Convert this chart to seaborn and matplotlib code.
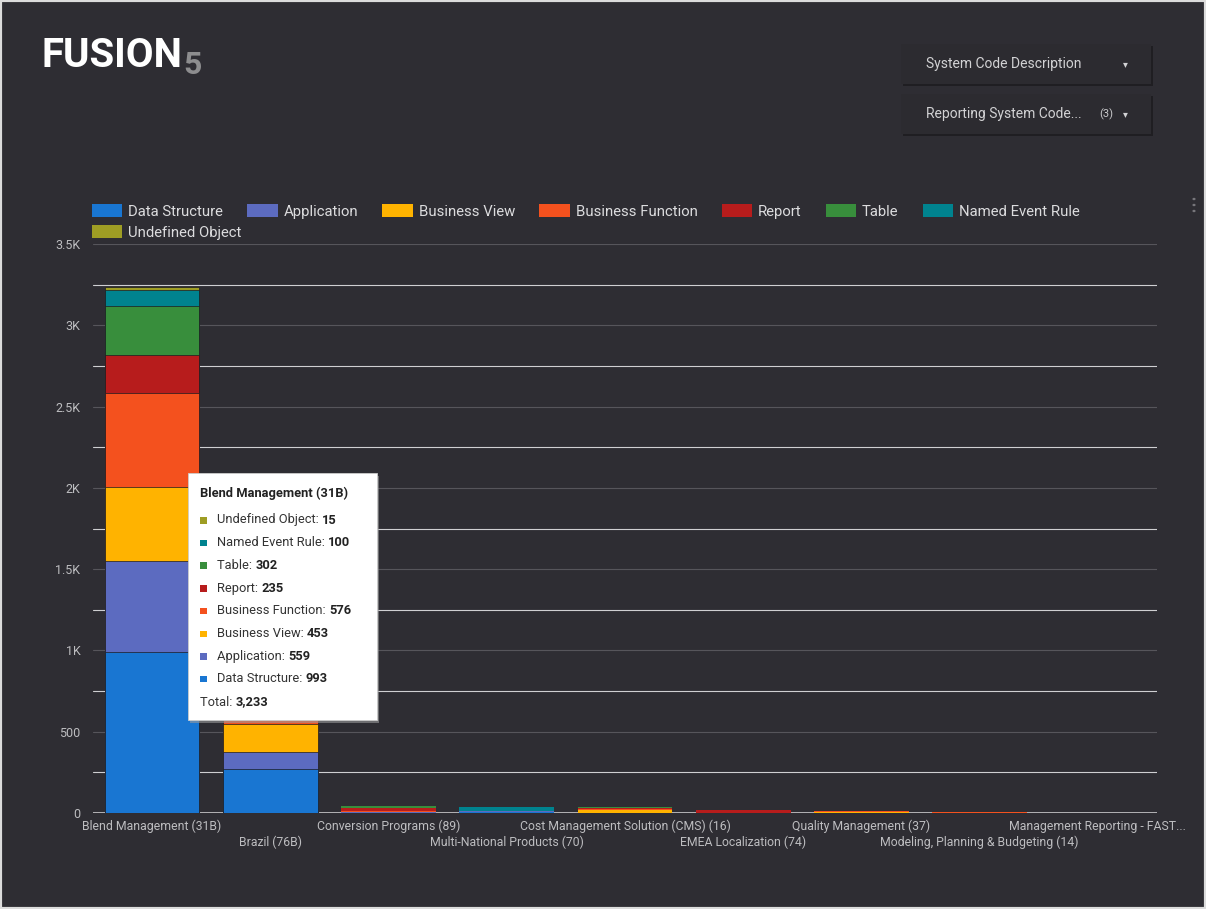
import numpy as np
import pandas as pd
import matplotlib
matplotlib.use("Agg")
import matplotlib.pyplot as plt
import seaborn as sns
from matplotlib.patches import Rectangle, Patch
from matplotlib.ticker import MultipleLocator, FuncFormatter

# ================================
# DATA
# ================================
categories = [
    "Blend Management (31B)",
    "Brazil (76B)",
    "Conversion Programs (89)",
    "Multi-National Products (70)",
    "Cost Management Solution (CMS) (16)",
    "EMEA Localization (74)",
    "Quality Management (37)",
    "Modeling, Planning & Budgeting (14)",
    "Management Reporting - FAST...",
]

data_structure = [993, 272, 3, 8, 1, 1, 0, 0, 1]
application = [559, 105, 3, 2, 0, 0, 0, 0, 0]
business_view = [453, 172, 2, 0, 19, 0, 8, 3, 0]
business_function = [576, 120, 5, 0, 7, 2, 2, 1, 0]
report = [235, 45, 20, 0, 6, 14, 0, 1, 0]
table = [302, 60, 9, 0, 4, 2, 0, 1, 0]
named_event_rule = [100, 18, 1, 27, 0, 0, 0, 0, 0]
undefined_object = [15, 3, 0, 0, 0, 0, 0, 0, 0]

series_names = ["Data Structure", "Application", "Business View", "Business Function",
                "Report", "Table", "Named Event Rule", "Undefined Object"]
series_values = [data_structure, application, business_view, business_function,
                 report, table, named_event_rule, undefined_object]
series_colors = ["#1976D2", "#5C6BC0", "#FFB300", "#F4511E",
                 "#B71C1C", "#388E3C", "#00838F", "#9E9D24"]

# ================================
# STYLE
# ================================
bg = "#2e2d33"
sns.set_theme(style="dark")
plt.rcParams["font.family"] = ["Roboto", "DejaVu Sans"]

W, H = 1206, 909


def px(x, y):
    return x / W, 1 - y / H


fig = plt.figure(figsize=(W / 100, H / 100), dpi=100, facecolor=bg)
ax = fig.add_axes([93 / W, 1 - 813 / H, (1157 - 93) / W, (813 - 244) / H])
ax.set_facecolor(bg)

# ================================
# STACKED BARS (cumulative layers)
# ================================
cum = np.cumsum(np.array(series_values), axis=0)
for i in reversed(range(len(series_names))):
    sns.barplot(x=categories, y=cum[i], color=series_colors[i], saturation=1,
                width=0.8, errorbar=None, edgecolor="#1c1b20", linewidth=0.5,
                ax=ax, zorder=3)

# thin bars: no outline, otherwise the edges swallow the colour
for p in ax.patches:
    if p.get_height() < 100:
        p.set_linewidth(0)

ax.set_ylim(0, 3500)
ax.set_xlim(-0.5, len(categories) - 0.5)
ax.set_xlabel("")
ax.set_ylabel("")
for s in ax.spines.values():
    s.set_visible(False)

ax.yaxis.set_major_locator(MultipleLocator(500))
ax.yaxis.set_minor_locator(MultipleLocator(250))
ax.yaxis.set_major_formatter(FuncFormatter(
    lambda v, p: "0" if v == 0 else (f"{v/1000:g}K" if v >= 1000 else f"{v:g}")))
ax.grid(which="major", axis="y", color="#56555b", linewidth=0.8, zorder=1)
ax.grid(which="minor", axis="y", color="#cfcfd2", linewidth=0.8, zorder=1)
ax.grid(which="major", axis="x", visible=False)
ax.axhline(0, color="#d6d6d8", linewidth=1.1, zorder=2)
ax.tick_params(axis="y", which="both", length=0, labelsize=9, colors="#bdbdc0", pad=9)
ax.tick_params(axis="x", length=0, labelsize=8.8, colors="#bdbdc0")

for i, tick in enumerate(ax.xaxis.get_major_ticks()):
    tick.set_pad(5 if i % 2 == 0 else 16.5)

# ================================
# LEGEND (one row of seven, the eighth below)
# ================================
leg_kw = dict(loc="upper left", frameon=False, fontsize=10.7, handlelength=2.05,
              handleheight=1.0, handletextpad=0.4, columnspacing=1.62, borderaxespad=0)
handles = [Patch(facecolor=c, edgecolor="none") for c in series_colors]
leg1 = fig.legend(handles[:7], series_names[:7], bbox_to_anchor=px(86, 198), ncol=7, **leg_kw)
leg2 = fig.legend(handles[7:], series_names[7:], bbox_to_anchor=px(86, 219), ncol=1, **leg_kw)
for lg in (leg1, leg2):
    for t in lg.get_texts():
        t.set_color("#dcdcde")

# ================================
# LOGO & CONTROLS
# ================================
renderer = fig.canvas.get_renderer()
logo = fig.text(*px(41, 67), "FUSION", fontsize=29, fontweight="bold", color="white",
                ha="left", va="baseline")
lb = logo.get_window_extent(renderer)
fig.text(lb.x1 / W + 1 / W, 1 - 74 / H, "5", fontsize=23, fontweight="bold",
         color="#8d8d8f", ha="left", va="baseline")

for (y0, txt, extra) in [(44, "System Code Description", ""),
                         (94, "Reporting System Code...", "(3)")]:
    fig.patches.append(Rectangle(px(903, y0 + 42), 250 / W, 40 / H, transform=fig.transFigure,
                                 facecolor="#1f1e22", edgecolor="none", zorder=1))
    fig.patches.append(Rectangle(px(901, y0 + 40), 250 / W, 40 / H, transform=fig.transFigure,
                                 facecolor="#2c2b30", edgecolor="none", zorder=2))
    fig.text(*px(926, y0 + 20), txt, fontsize=10, color="#d2d2d4", va="center", zorder=3)
    if extra:
        fig.text(*px(1099, y0 + 20), extra, fontsize=8, color="#c8c8ca", va="center", zorder=3)
    fig.text(*px(1125, y0 + 20), "▾", fontsize=7, color="#d2d2d4", va="center",
             ha="center", family="DejaVu Sans", zorder=3)

for yy in (199, 205, 211):
    fig.patches.append(plt.Circle(px(1194, yy), 1.6 / W, transform=fig.transFigure,
                                  facecolor="#77767b", edgecolor="none"))

# ================================
# TOOLTIP
# ================================
fig.patches.append(Rectangle(px(190, 723), (377 - 188) / W, (720 - 473) / H,
                             transform=fig.transFigure, facecolor="#9a9a9c",
                             edgecolor="none", zorder=8, alpha=0.6))
fig.patches.append(Rectangle(px(188, 720), (377 - 188) / W, (720 - 473) / H,
                             transform=fig.transFigure, facecolor="white",
                             edgecolor="#cccccc", linewidth=0.6, zorder=9))
fig.text(*px(200, 493), categories[0], fontsize=9.3, fontweight="bold", color="#222222",
         va="center", zorder=10)

tip_rows = list(reversed(range(len(series_names))))
for k, i in enumerate(tip_rows):
    yy = 520 + k * 22.7
    fig.patches.append(Rectangle(px(200, yy + 3.5), 6.5 / W, 6.5 / H, transform=fig.transFigure,
                                 facecolor=series_colors[i], edgecolor="none", zorder=10))
    t = fig.text(*px(217, yy), series_names[i] + ": ", fontsize=9.3, color="#333333",
                 va="center", zorder=10)
    bb = t.get_window_extent(renderer)
    fig.text(bb.x1 / W, 1 - yy / H, f"{series_values[i][0]:,}", fontsize=9.3,
             fontweight="bold", color="#222222", va="center", zorder=10)

total = sum(v[0] for v in series_values)
t = fig.text(*px(200, 702), "Total: ", fontsize=9.3, color="#333333", va="center", zorder=10)
bb = t.get_window_extent(renderer)
fig.text(bb.x1 / W, 1 - 702 / H, f"{total:,}", fontsize=9.3, fontweight="bold",
         color="#222222", va="center", zorder=10)

# outer frame
fig.patches.append(Rectangle((0, 0), 1, 1, transform=fig.transFigure, fill=False,
                             edgecolor="#dcdcdc", linewidth=3, zorder=20))

fig.savefig("out.png", dpi=100, facecolor=bg)
